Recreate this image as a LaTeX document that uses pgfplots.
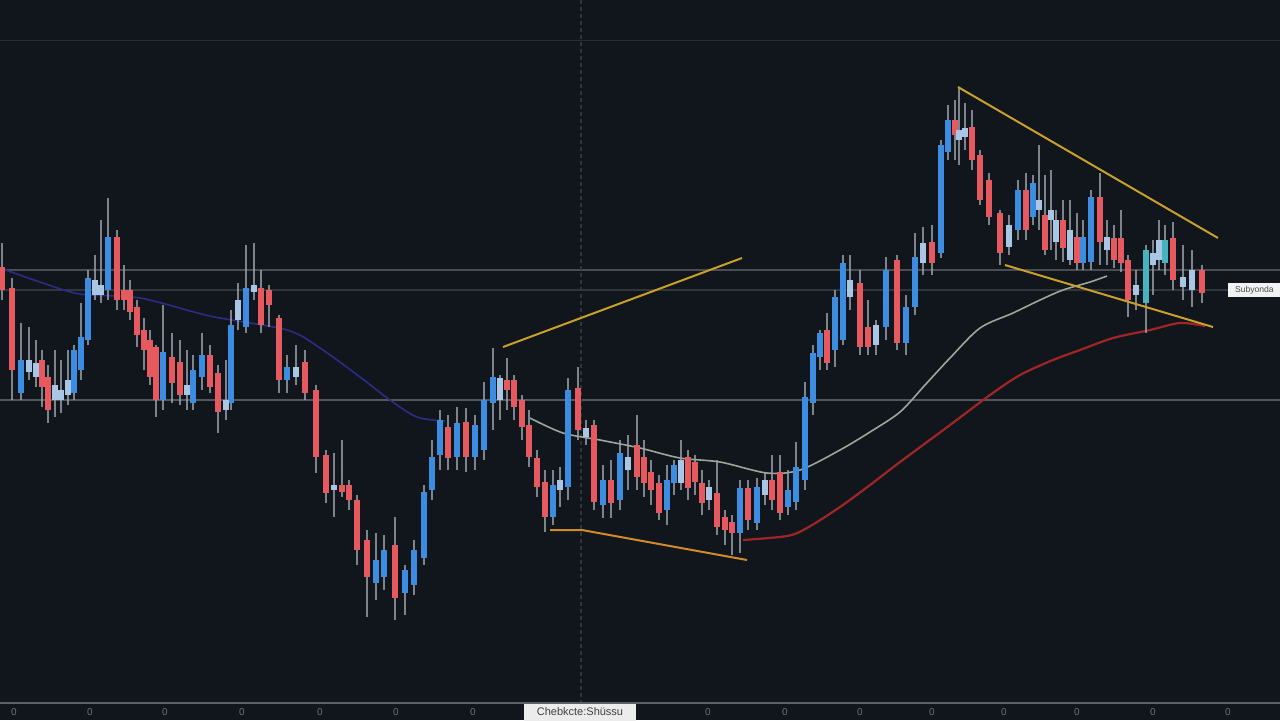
\documentclass[border=0pt]{standalone}
\usepackage{pgfplots}
\pgfplotsset{compat=1.18}
\usepackage{pgfplotstable}
\usepackage{fontspec}
\setmainfont{Liberation Sans}
\definecolor{bgc}{HTML}{11151C}
\definecolor{wickc}{HTML}{9AA0AA}
\definecolor{upc}{HTML}{3C8CE1}
\definecolor{dnc}{HTML}{E65A5F}
\definecolor{ltc}{HTML}{A9C6E4}
\definecolor{tlc}{HTML}{45B4BE}
\definecolor{navyc}{HTML}{2B2D85}
\definecolor{greyma}{HTML}{9AA89A}
\definecolor{redma}{HTML}{A02626}
\definecolor{yelc}{HTML}{C9A02A}
\definecolor{orc}{HTML}{D08A2A}

% columns: x, wick high, body top, body bottom, wick low (screen y, top = 0)
\pgfplotstableread{
x hi top bot lo
2 243 267 290 300
12 278 288 370 400
42 350 360 387 407
48 365 377 410 423
117 230 237 300 310
124 265 290 300 310
130 280 290 312 320
137 300 307 335 347
144 318 330 350 370
150 330 340 377 385
156 345 347 400 417
172 333 357 383 403
180 340 362 395 405
210 345 355 387 393
218 365 373 412 433
261 270 288 325 333
269 285 290 305 327
279 315 318 380 393
305 350 362 393 400
316 385 390 457 473
326 450 455 493 503
342 440 485 492 497
349 480 485 500 510
357 495 500 550 565
367 530 540 577 617
395 517 545 598 620
448 415 427 458 470
466 408 422 457 472
507 358 380 390 410
514 375 380 407 420
522 395 400 427 440
529 410 425 457 467
537 450 458 487 497
545 470 482 517 532
578 367 388 430 440
594 420 425 502 510
611 460 480 503 518
637 415 445 477 490
644 440 457 483 497
651 460 472 490 505
659 475 483 513 520
688 450 457 488 500
695 455 462 482 495
702 470 483 503 515
717 460 493 527 535
725 510 517 530 545
732 515 522 533 555
748 480 488 520 530
772 455 480 500 510
780 455 472 513 520
827 313 330 363 370
860 270 283 347 355
868 300 327 347 355
897 255 260 343 350
932 225 242 263 275
955 100 120 135 160
972 110 127 160 170
980 150 155 200 205
989 173 180 217 225
1000 210 213 253 265
1026 173 190 230 240
1045 175 215 250 255
1063 200 220 248 262
1077 213 237 263 270
1100 173 197 242 265
1114 225 238 260 268
1121 210 238 263 272
1128 255 260 300 317
1173 222 238 280 290
1202 265 270 293 303
}\dntable

\pgfplotstableread{
x hi top bot lo
21 323 360 393 400
74 345 350 393 400
81 303 337 370 380
88 270 278 340 345
108 198 237 290 300
163 305 352 400 410
193 355 370 403 410
202 333 355 377 390
231 310 325 403 410
246 245 288 327 333
287 355 367 380 393
376 533 560 583 600
384 535 550 577 590
405 565 570 593 615
414 540 550 585 595
424 485 492 558 565
432 440 457 490 500
440 410 420 455 470
457 407 423 457 470
475 415 425 457 470
484 382 400 450 460
493 348 377 403 430
553 470 485 517 525
568 378 390 487 500
603 465 480 505 518
620 440 453 500 510
667 465 480 510 525
674 460 465 483 495
740 480 488 533 553
757 478 487 523 530
788 470 490 507 515
796 442 467 502 510
805 382 397 480 490
813 345 353 403 415
820 330 333 357 370
835 290 297 350 367
843 255 263 340 345
886 257 270 327 340
906 295 307 343 355
915 233 257 307 315
941 140 145 253 258
948 105 120 152 160
1018 180 190 230 240
1033 175 183 217 225
1083 220 237 263 270
1091 190 197 262 270
}\uptable

\pgfplotstableread{
x hi top bot lo
29 327 360 372 380
36 340 363 377 387
55 350 385 400 417
61 360 390 400 413
68 350 380 395 405
95 255 280 295 300
101 220 285 295 303
187 350 385 395 410
226 360 400 410 420
238 283 300 320 330
254 243 285 292 300
296 345 367 377 385
334 453 485 490 517
500 375 378 400 420
560 467 480 490 507
586 420 428 437 445
628 435 457 470 490
681 440 460 483 490
709 480 487 500 510
765 473 480 495 505
850 255 280 297 310
876 320 325 345 355
923 227 243 263 275
959 87 130 140 165
965 103 128 137 150
1009 215 225 247 255
1039 145 200 210 230
1051 170 210 220 250
1056 210 220 242 260
1070 200 230 260 265
1107 220 237 250 265
1136 270 285 295 310
1153 240 253 265 295
1159 220 240 260 270
1183 245 277 287 300
1192 250 270 290 307
}\lttable

\pgfplotstableread{
x hi top bot lo
1146 245 250 303 333
1165 225 240 263 275
}\tltable

\newcommand{\wicks}[1]{%
  \addplot[draw=none, mark=none,
    error bars/.cd, y dir=both, y explicit, error mark=none,
    error bar style={draw=wickc, line width=0.6pt, opacity=0.8}]
    table[x=x, y expr=(\thisrow{hi}+\thisrow{lo})/2,
          y error expr=(\thisrow{lo}-\thisrow{hi})/2] {#1};}
\newcommand{\bodies}[2]{%
  \addplot[draw=none, mark=none,
    error bars/.cd, y dir=both, y explicit, error mark=none,
    error bar style={draw=#2, line width=2.7pt}]
    table[x=x, y expr=(\thisrow{top}+\thisrow{bot})/2,
          y error expr=(\thisrow{bot}-\thisrow{top})/2] {#1};}

\begin{document}
\begin{tikzpicture}
\begin{axis}[name=ax,
  width=640pt, height=360pt, scale only axis,
  xmin=0, xmax=1280, ymin=0, ymax=720, y dir=reverse,
  axis line style={draw=none}, xtick=\empty, ytick=\empty,
  axis background/.style={fill=bgc},
  clip=true]
% grid / reference lines
\draw[color=white!10!bgc, line width=0.5pt] (axis cs:0,40) -- (axis cs:1280,40);
\draw[color=white!24!bgc, line width=0.8pt] (axis cs:0,270) -- (axis cs:1280,270);
\draw[color=white!14!bgc, line width=0.6pt] (axis cs:0,290) -- (axis cs:1280,290);
\draw[color=white!28!bgc, line width=0.8pt] (axis cs:0,400) -- (axis cs:1280,400);
\draw[color=white!14!bgc, line width=0.6pt, dash pattern=on 2pt off 1.5pt] (axis cs:581,0) -- (axis cs:581,720);
\draw[color=white!32!bgc, line width=0.8pt] (axis cs:0,703) -- (axis cs:1280,703);

% moving averages
\addplot[navyc, line width=0.8pt, smooth] coordinates {(0,268) (40,282) (80,294) (140,298) (210,316) (287,330) (320,348) (360,377) (390,400) (417,417) (445,421)};
\addplot[greyma, line width=0.8pt, smooth] coordinates {(530,418) (563,433) (600,440) (640,448) (680,458) (720,462) (767,473) (800,470) (840,450) (870,432) (900,412) (925,385) (950,358) (980,328) (1013,313) (1040,300) (1063,290) (1090,282) (1107,276)};
\addplot[redma, line width=1.1pt, smooth] coordinates {(743,540) (787,536) (807,528) (840,507) (870,485) (900,462) (950,425) (990,395) (1020,375) (1053,360) (1080,350) (1113,338) (1150,330) (1180,323) (1205,326)};

% candles
\wicks{\dntable}
\wicks{\uptable}
\wicks{\lttable}
\wicks{\tltable}
\bodies{\dntable}{dnc}
\bodies{\uptable}{upc}
\bodies{\lttable}{ltc}
\bodies{\tltable}{tlc}

% trend lines
\addplot[yelc, line width=1pt] coordinates {(503,347) (742,258)};
\addplot[orc, line width=1pt] coordinates {(550,530) (582,530) (747,560)};
\addplot[yelc, line width=1pt] coordinates {(958,87) (1218,238)};
\addplot[yelc, line width=1pt] coordinates {(1005,265) (1213,327)};

% bottom labels
\pgfplotsinvokeforeach{14,90,165,242,320,396,473,708,785,860,932,1004,1077,1153,1228}{
  \node[text=white!40!bgc, font=\fontsize{5}{5}\selectfont, inner sep=0pt] at (axis cs:#1,712) {0};
}
\node[fill=white!85!gray, text=black!75, font=\fontsize{5.5}{6}\selectfont, inner sep=0pt, minimum width=56pt, minimum height=8.5pt] at (axis cs:580,712) {Chebkcte:Shüssu};
\node[fill=white!90!gray, text=black!70, font=\fontsize{4.3}{5}\selectfont, inner sep=0pt, minimum width=26pt, minimum height=7pt, anchor=west] at (axis cs:1228,290) {Subyonda};
\end{axis}
\pgfresetboundingbox
\useasboundingbox (ax.south west) rectangle (ax.north east);
\end{tikzpicture}
\end{document}
